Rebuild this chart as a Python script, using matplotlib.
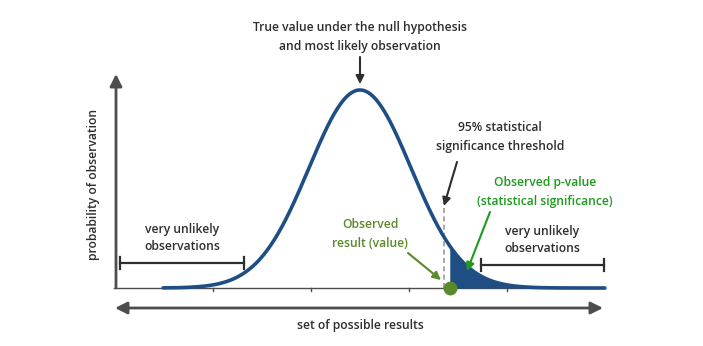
import numpy as np
import matplotlib.pyplot as plt

# picture size and the pixel scale of the reference
W, H = 703, 346
center_px, sigma_px = 360, 51      # peak of the curve, one sigma in pixels
base_px, peak_px = 288, 90         # baseline and top of the curve

# data of the chart (in sigma units)
curve_start, curve_end = -3.86, 4.8
threshold_z = 1.645                # 95% one-sided threshold
observed_z = 1.76                  # observed result
tick_z = [-2.88, -0.96, 0.96, 2.88]

navy = "#1f4e85"
gray = "#4d4d4d"
dark = "#2e2e2e"
green = "#1e9a1e"
olive = "#5a8a2a"
fs = 8.7

plt.rcParams['font.family'] = ['Open Sans', 'DejaVu Sans']

def pdf(z):
    return np.exp(-z ** 2 / 2) / np.sqrt(2 * np.pi)

peak = pdf(0)

# pixel position -> data position
def P(px, py):
    return ((px - center_px) / sigma_px, (base_px - py) / (base_px - peak_px) * peak)

fig = plt.figure(figsize=(W / 100, H / 100), dpi=100)
ax = fig.add_axes([0, 0, 1, 1])
ax.set_xlim(P(0, 0)[0], P(W, 0)[0])
ax.set_ylim(P(0, H)[1], P(0, 0)[1])
ax.axis('off')

# curve and the shaded p-value tail
z = np.linspace(curve_start, curve_end, 600)
ax.plot(z, pdf(z), color=navy, lw=2.6, solid_capstyle='round', zorder=3)
zt = np.linspace(observed_z, curve_end, 300)
ax.fill_between(zt, 0, pdf(zt), color=navy, lw=0, zorder=3)

# threshold line
ax.plot([threshold_z, threshold_z], [0, P(0, 207)[1]], color="#9a9a9a", lw=1.2,
        ls=(0, (3, 2)), zorder=2)

# baseline with ticks
x0, y0 = P(114, base_px)
x1, _ = P(605, base_px)
ax.plot([x0, x1], [0, 0], color=gray, lw=1, zorder=2)
tick_len = P(0, base_px + 3)[1]
for t in tick_z:
    ax.plot([t, t], [0, tick_len], color=gray, lw=1, zorder=2)

# y axis arrow
ya_x, _ = P(116, 0)
ax.annotate("", xy=(ya_x, P(0, 74)[1]), xytext=(ya_x, 0),
            arrowprops=dict(arrowstyle='-|>', color=gray, lw=2, mutation_scale=18,
                            shrinkA=0, shrinkB=0))
ax.text(*P(94, 184), "probability of observation", rotation=90, ha='center', va='center',
        fontsize=fs, fontweight='semibold', color=dark)

# bottom double arrow
ax.annotate("", xy=P(115, 308), xytext=P(603, 308),
            arrowprops=dict(arrowstyle='<|-|>', color=gray, lw=2, mutation_scale=18,
                            shrinkA=0, shrinkB=0))
ax.text(*P(360, 325), "set of possible results", ha='center', va='center',
        fontsize=fs, fontweight='semibold', color=dark)

# brackets for very unlikely observations
def bracket(xa, xb, y, label):
    pa, pb = P(xa, y), P(xb, y)
    ax.plot([pa[0], pb[0]], [pa[1], pb[1]], color=dark, lw=1.6)
    for pp in (pa, pb):
        ax.plot([pp[0], pp[0]], [P(0, y - 6)[1], P(0, y + 6)[1]], color=dark, lw=1.6)
    ax.text(*P((xa + xb) / 2, y - 25), label, ha='center', va='center', fontsize=fs,
            fontweight='semibold', color=dark, linespacing=1.5)

bracket(120, 244, 263, "very unlikely\nobservations")
bracket(481, 604, 265, "very unlikely\nobservations")

# top label
ax.text(*P(360, 37), "True value under the null hypothesis\nand most likely observation",
        ha='center', va='center', fontsize=fs, fontweight='semibold', color=dark,
        linespacing=1.55)
ax.annotate("", xy=(0, P(0, 84)[1]), xytext=P(360, 57),
            arrowprops=dict(arrowstyle='-|>', color=dark, lw=1.5, mutation_scale=12,
                            shrinkA=0, shrinkB=0))

# threshold label
ax.text(*P(500, 137), "95% statistical\nsignificance threshold", ha='center', va='center',
        fontsize=fs, fontweight='semibold', color=dark, linespacing=1.55)
ax.annotate("", xy=(threshold_z, P(0, 206)[1]), xytext=P(457, 162),
            arrowprops=dict(arrowstyle='-|>', color=dark, lw=1.5, mutation_scale=12,
                            shrinkA=0, shrinkB=0))

# p-value label
ax.text(*P(545, 192), "Observed p-value\n(statistical significance)", ha='center',
        va='center', fontsize=fs, fontweight='semibold', color=green, linespacing=1.55)
ax.annotate("", xy=P(467, 271), xytext=P(490, 212),
            arrowprops=dict(arrowstyle='-|>', color=green, lw=1.5, mutation_scale=12,
                            shrinkA=0, shrinkB=0))

# observed result label and dot
ax.text(*P(370, 234), "Observed\nresult (value)", ha='center', va='center', fontsize=fs,
        fontweight='semibold', color=olive, linespacing=1.55)
ax.annotate("", xy=P(441, 280), xytext=P(408, 253),
            arrowprops=dict(arrowstyle='-|>', color=olive, lw=1.5, mutation_scale=12,
                            shrinkA=0, shrinkB=0))
ax.plot([observed_z], [0], 'o', color=olive, ms=9, zorder=5)

fig.savefig("out.png", dpi=100)
